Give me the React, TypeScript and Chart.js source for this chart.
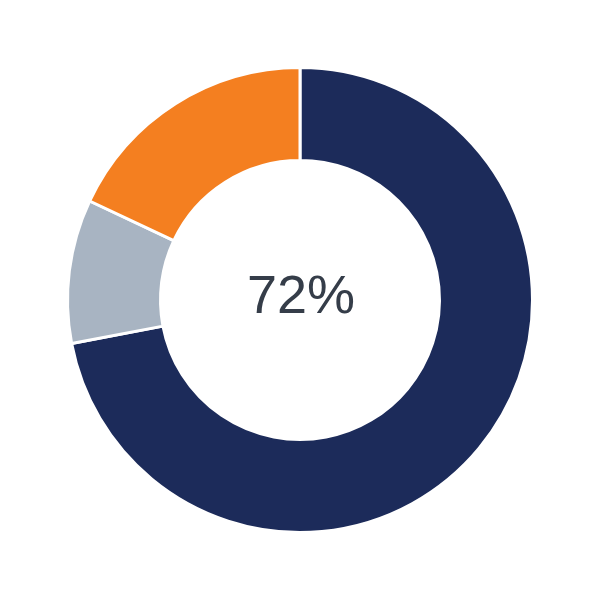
import React, { useEffect, useRef } from "react";
import { Chart, registerables } from "chart.js";

Chart.register(...registerables);

const labels = ["Navy", "Gray", "Orange"];
const values = [72, 10, 18];
const colors = ["#1c2b5a", "#a8b4c2", "#f47f20"];
const centerText = "72%";

const centerTextPlugin = {
  id: "centerText",
  afterDraw(chart: any) {
    const { ctx } = chart;
    const meta = chart.getDatasetMeta(0);
    const arc = meta.data[0];
    if (!arc) return;
    ctx.save();
    ctx.font = "54px 'Liberation Sans', Arial, sans-serif";
    ctx.fillStyle = "#353d49";
    ctx.textAlign = "center";
    ctx.textBaseline = "middle";
    ctx.fillText(centerText, arc.x + 1, arc.y - 2);
    ctx.restore();
  },
};

export default function App() {
  const ref = useRef<HTMLCanvasElement | null>(null);
  useEffect(() => {
    if (!ref.current) return;
    const chart = new Chart(ref.current, {
      type: "doughnut",
      data: {
        labels,
        datasets: [
          {
            data: values,
            backgroundColor: colors,
            borderColor: "#ffffff",
            borderWidth: 3,
          },
        ],
      },
      options: {
        animation: false,
        responsive: false,
        cutout: "60%",
        layout: { padding: 66 },
        plugins: {
          legend: { display: false },
          tooltip: { enabled: false },
        },
      },
      plugins: [centerTextPlugin],
    });
    return () => chart.destroy();
  }, []);
  return (
    <div style={{ position: "fixed", left: 0, top: 0, width: 600, height: 600, background: "#fff" }}>
      <canvas ref={ref} width={600} height={600} style={{ width: 600, height: 600 }} />
    </div>
  );
}
